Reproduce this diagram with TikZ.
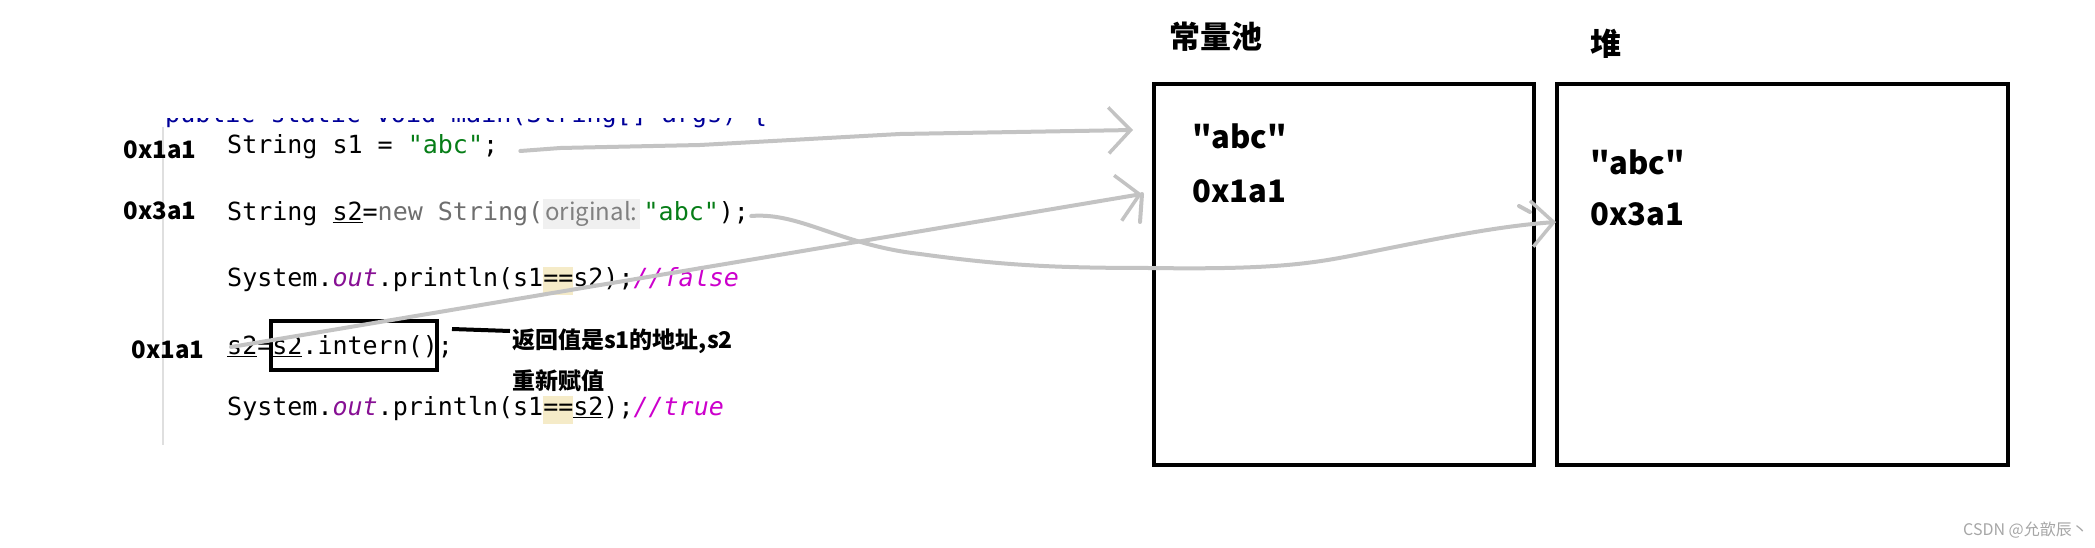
\documentclass[tikz,border=0pt]{standalone}
\usepackage{fontspec}
\usetikzlibrary{arrows.meta}
\newfontfamily\code{DejaVu Sans Mono}
\newfontfamily\cjk{Noto Sans CJK SC}
\definecolor{strg}{RGB}{6,125,23}
\definecolor{kw}{RGB}{110,110,110}
\definecolor{outc}{RGB}{135,16,148}
\definecolor{cmt}{RGB}{204,0,204}
\definecolor{hl}{RGB}{245,235,200}
\definecolor{pen}{RGB}{195,195,195}
\newcommand{\hleq}{{\setlength{\fboxsep}{0pt}\colorbox{hl}{\strut==}}}
\begin{document}
\begin{tikzpicture}[x=1pt,y=-1pt,
  codeline/.style={anchor=west,inner sep=0pt,font=\code\fontsize{25}{28}\selectfont},
  addr/.style={inner sep=0pt,font=\cjk\bfseries\fontsize{24}{28}\selectfont},
  big/.style={anchor=west,inner sep=0pt,font=\cjk\bfseries\fontsize{31}{36}\selectfont},
  mem/.style={draw,line width=4pt,minimum width=380pt,minimum height=381pt,inner sep=0pt},
  pencil/.style={draw=pen,line width=4pt,line cap=round,line join=round},
  barb/.style={-{Straight Barb[length=22pt,width=46pt,line width=3.5pt]}}]
\useasboundingbox (0,0) rectangle (2095,548);
% partially hidden header line
\node[codeline,text=blue!60!black] (hdr) at (165,116) {public static void main(String[] args) \{};
\fill[white] (150,85) rectangle (800,118);
\draw[gray!25,line width=1.5pt] (163,127) -- (163,445);
% code
\node[codeline] (l1) at (227,147) {String s1 = \textcolor{strg}{"abc"};};
\node[codeline] (l2) at (227,214) {String \underline{s2}=\textcolor{kw}{new String(}{\setlength{\fboxsep}{2pt}\colorbox{gray!12}{\cjk\fontsize{24}{26}\selectfont\color{gray} original:}}\,\textcolor{strg}{"abc"});};
\node[codeline] (l3) at (227,281) {System.\textcolor{outc}{\itshape out}.println(s1\hleq s2);\textcolor{cmt}{\itshape //false}};
\node[codeline] (l4) at (227,347) {\underline{s2}=\underline{s2}.intern();};
\node[codeline] (l5) at (227,410) {System.\textcolor{outc}{\itshape out}.println(s1\hleq\underline{s2});\textcolor{cmt}{\itshape //true}};
% addresses
\node[addr] (a1) at (160,150) {0x1a1};
\node[addr] (a2) at (160,211) {0x3a1};
\node[addr] (a3) at (168,350) {0x1a1};
% intern box and note
\node[draw,line width=4pt,minimum width=166pt,minimum height=49pt,inner sep=0pt] (ib) at (354,345.5) {};
\node[anchor=west,inner sep=0pt,font=\cjk\bfseries\fontsize{23}{26}\selectfont] (n1) at (512,341) {返回值是s1的地址,s2};
\node[anchor=west,inner sep=0pt,font=\cjk\bfseries\fontsize{23}{26}\selectfont] (n2) at (512,381) {重新赋值};
\draw[line width=4pt] (ib.east |- 0,329) ++(13,0) -- ++(58,2);
% memory boxes
\node[mem] (pool) at (1344,274.5) {};
\node[mem,minimum width=451pt] (heap) at (1782.5,274.5) {};
\node[big] (tpool) at (1169,37) {常量池};
\node[big] (theap) at (1590,44) {堆};
\node[big] (p1) at (1192,136) {"abc"};
\node[big] (p2) at (1192,191) {0x1a1};
\node[big] (h1) at (1590,162) {"abc"};
\node[big] (h2) at (1590,214) {0x3a1};
% pencil arrows
\coordinate (e1) at (1133,130);
\coordinate (e2) at (1142,194);
\coordinate (e3) at (1556,222);
\draw[pencil,barb] (l1.east) ++(22,4) -- ++(40,-3) -- (700,145) -- (900,134) -- (e1);
\draw[pencil,barb] (l4.west) ++(4,0) -- (e2);
\draw[pencil] (e2) -- (1140,222);
\draw[pencil,barb] (l2.east) ++(2,2) .. controls (800,212) and (840,245) .. (920,254)
  .. controls (1000,265) and (1050,268) .. (1150,268)
  .. controls (1290,270) and (1320,262) .. (1380,250)
  .. controls (1440,238) and (1500,226) .. (e3);
\draw[pencil] (1519,206) -- (1530,212);
\node[anchor=east,inner sep=0pt,text=gray!70,font=\cjk\fontsize{16}{18}\selectfont] (wm) at (2088,530) {CSDN @允歆辰丶};
\end{tikzpicture}
\end{document}
